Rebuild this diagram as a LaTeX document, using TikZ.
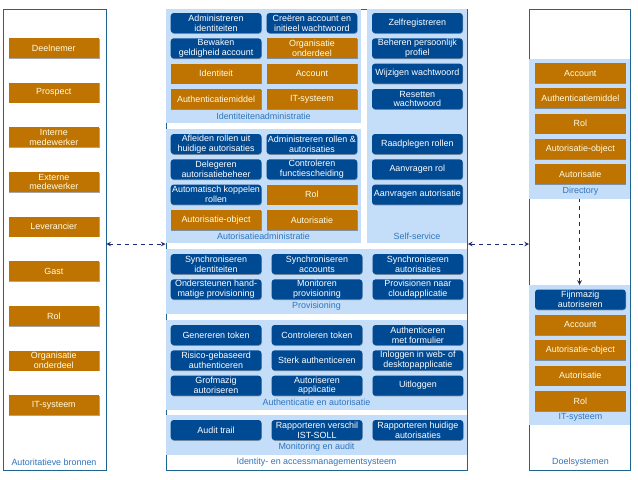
\documentclass[tikz,border=0pt]{standalone}
\usepackage{fontspec}
\setmainfont{Liberation Sans}
\usetikzlibrary{shapes, arrows, positioning, shadows}

\definecolor{functieblauw}{HTML}{004A94}
\definecolor{objectoranje}{HTML}{BF7300}
\definecolor{vlakblauw}{HTML}{C4DEF9}
\definecolor{randblauw}{HTML}{1F6391}
\definecolor{titelblauw}{HTML}{2F74BD}
\definecolor{pijlblauw}{HTML}{1A2A6C}

\begin{document}
\begin{tikzpicture}[
        x=.75pt, y=-.75pt, node distance=4pt,
        kader/.style 2 args={draw=randblauw, line width=.6pt, fill=white, anchor=north west, inner sep=0pt, minimum width=#1*.75pt, minimum height=#2*.75pt},
        vlak/.style 2 args={fill=vlakblauw, anchor=north west, inner sep=0pt, outer sep=0pt, minimum width=#1*.75pt, minimum height=#2*.75pt},
        blok/.style={minimum width=68pt, minimum height=15pt, inner sep=0pt, outer sep=0pt, align=center, text=white, font=\fontsize{6.7}{7.4}\selectfont, drop shadow={shadow xshift=.3pt, shadow yshift=-.6pt, opacity=.35, fill=black}},
        functie/.style={blok, fill=functieblauw, rounded corners=2.2pt},
        object/.style={blok, fill=objectoranje, text=white!90!yellow},
        titel/.style={text=titelblauw, inner sep=0pt, font=\fontsize{6.7}{8}\selectfont},
        koppeling/.style={<->, >=stealth, dashed, pijlblauw, line width=.6pt}
    ]
        \useasboundingbox (0,0) rectangle (638,479);

        % Kaders
        \node[kader={103}{461.5}] (bronnen) at (2.5,8.5) {};
        \node[kader={301.5}{461.5}] (iam) at (165.5,8.5) {};
        \node[kader={101}{461.5}] (doel) at (529,8.5) {};

        % Vlakken
        \node[vlak={195}{114.5}] (idadmin) at (166,8.8) {};
        \node[vlak={195}{114}] (autadmin) at (166,129) {};
        \node[vlak={99.5}{234.2}] (selfservice) at (367,8.8) {};
        \node[vlak={300.5}{65}] (provisioning) at (166,249) {};
        \node[vlak={300.5}{90}] (authaut) at (166,320) {};
        \node[vlak={300.5}{40}] (monitoring) at (166,415) {};
        \node[vlak={100.5}{140}] (directory) at (529.3,59) {};
        \node[vlak={100.5}{140}] (itsysteem) at (529.3,285) {};

        % Autoritatieve bronnen
        \node[object, anchor=north west] (deelnemer) at (8.5,38) {Deelnemer};
        \node[object, below=18.5pt of deelnemer] (prospect) {Prospect};
        \node[object, below=18.5pt of prospect] (intern) {Interne\\medewerker};
        \node[object, below=18.5pt of intern] (extern) {Externe\\medewerker};
        \node[object, below=18.5pt of extern] (leverancier) {Leverancier};
        \node[object, below=18.5pt of leverancier] (gast) {Gast};
        \node[object, below=18.5pt of gast] (bronrol) {Rol};
        \node[object, below=18.5pt of bronrol] (bronorg) {Organisatie\\onderdeel};
        \node[object, below=18.5pt of bronorg] (bronit) {IT-systeem};
        \node[titel] (bronnentitel) at (54,462) {Autoritatieve bronnen};

        % Identiteitenadministratie
        \node[functie, anchor=north west] (adminid) at (170.7,13) {Administreren\\identiteiten};
        \node[functie, right=3.9pt of adminid] (creeren) {Creëren account en\\initieel wachtwoord};
        \node[functie, below=of adminid] (bewaken) {Bewaken\\geldigheid account};
        \node[object, below=of creeren] (idorg) {Organisatie\\onderdeel};
        \node[object, below=of bewaken] (identiteit) {Identiteit};
        \node[object, below=of idorg] (idaccount) {Account};
        \node[object, below=of identiteit] (idmiddel) {Authenticatiemiddel};
        \node[object, below=of idaccount] (idit) {IT-systeem};
        \node[titel] (idtitel) at (263.5,116) {Identiteitenadministratie};

        % Autorisatieadministratie
        \node[functie, anchor=north west] (afleiden) at (170.7,134) {Afleiden rollen uit\\huidige autorisaties};
        \node[functie, right=3.9pt of afleiden] (adminrol) {Administreren rollen \&\\autorisaties};
        \node[functie, below=of afleiden] (delegeren) {Delegeren\\autorisatiebeheer};
        \node[functie, below=of adminrol] (controleren) {Controleren\\functiescheiding};
        \node[functie, below=of delegeren] (koppelen) {Automatisch koppelen\\rollen};
        \node[object, below=of controleren] (autrol) {Rol};
        \node[object, below=of koppelen] (autobject) {Autorisatie-object};
        \node[object, below=of autrol] (autorisatie) {Autorisatie};
        \node[titel] (auttitel) at (263.5,236) {Autorisatieadministratie};

        % Self-service
        \node[functie, anchor=north west] (zelfreg) at (372,13) {Zelfregistreren};
        \node[functie, below=of zelfreg] (profiel) {Beheren persoonlijk\\profiel};
        \node[functie, below=of profiel] (wijzigen) {Wijzigen wachtwoord};
        \node[functie, below=of wijzigen] (resetten) {Resetten\\wachtwoord};
        \node[functie, anchor=north west] (raadplegen) at (372,134) {Raadplegen rollen};
        \node[functie, below=of raadplegen] (aanvrol) {Aanvragen rol};
        \node[functie, below=of aanvrol] (aanvaut) {Aanvragen autorisatie};
        \node[titel] (selftitel) at (417,236) {Self-service};

        % Provisioning
        \node[functie, anchor=north west] (syncid) at (170.7,254) {Synchroniseren\\identiteiten};
        \node[functie, right=7.7pt of syncid] (syncacc) {Synchroniseren\\accounts};
        \node[functie, right=7.7pt of syncacc] (syncaut) {Synchroniseren\\autorisaties};
        \node[functie, below=of syncid] (handmatig) {Ondersteunen hand-\\matige provisioning};
        \node[functie, below=of syncacc] (monitoren) {Monitoren\\provisioning};
        \node[functie, below=of syncaut] (cloud) {Provisionen naar\\cloudapplicatie};
        \node[titel] (provtitel) at (316.5,306) {Provisioning};

        % Authenticatie en autorisatie
        \node[functie, anchor=north west] (genereren) at (170.7,325) {Genereren token};
        \node[functie, right=7.7pt of genereren] (controltoken) {Controleren token};
        \node[functie, right=7.7pt of controltoken] (formulier) {Authenticeren\\met formulier};
        \node[functie, below=of genereren] (risico) {Risico-gebaseerd\\authenticeren};
        \node[functie, below=of controltoken] (sterk) {Sterk authenticeren};
        \node[functie, below=of formulier] (inloggen) {Inloggen in web- of\\desktopapplicatie};
        \node[functie, below=of risico] (grofmazig) {Grofmazig\\autoriseren};
        \node[functie, below=of sterk] (applicatie) {Autoriseren\\applicatie};
        \node[functie, below=of inloggen] (uitloggen) {Uitloggen};
        \node[titel] (authtitel) at (316.5,402) {Authenticatie en autorisatie};

        % Monitoring en audit
        \node[functie, anchor=north west] (audit) at (170.7,420) {Audit trail};
        \node[functie, right=7.7pt of audit] (verschil) {Rapporteren verschil\\IST-SOLL};
        \node[functie, right=7.7pt of verschil] (huidig) {Rapporteren huidige\\autorisaties};
        \node[titel] (montitel) at (316.5,447) {Monitoring en audit};
        \node[titel] (iamtitel) at (316.5,462) {Identity- en accessmanagementsysteem};

        % Directory
        \node[object, anchor=north west] (diraccount) at (535,63) {Account};
        \node[object, below=of diraccount] (dirmiddel) {Authenticatiemiddel};
        \node[object, below=of dirmiddel] (dirrol) {Rol};
        \node[object, below=of dirrol] (dirobject) {Autorisatie-object};
        \node[object, below=of dirobject] (dirautorisatie) {Autorisatie};
        \node[titel] (dirtitel) at (580.5,191) {Directory};

        % IT-systeem
        \node[functie, anchor=north west] (fijnmazig) at (535,289.5) {Fijnmazig\\autoriseren};
        \node[object, below=of fijnmazig] (itaccount) {Account};
        \node[object, below=of itaccount] (itobject) {Autorisatie-object};
        \node[object, below=of itobject] (itautorisatie) {Autorisatie};
        \node[object, below=of itautorisatie] (itrol) {Rol};
        \node[titel] (ittitel) at (580.5,417) {IT-systeem};
        \node[titel] (doeltitel) at (580.5,462) {Doelsystemen};

        % Koppelingen
        \coordinate (koppelhoogte) at (0,244);
        \draw[koppeling] (bronnen.east |- koppelhoogte) -- (iam.west |- koppelhoogte);
        \draw[koppeling] (iam.east |- koppelhoogte) -- (doel.west |- koppelhoogte);
        \draw[koppeling, <-] (itsysteem.north) -- (directory.south);
    \end{tikzpicture}
\end{document}
